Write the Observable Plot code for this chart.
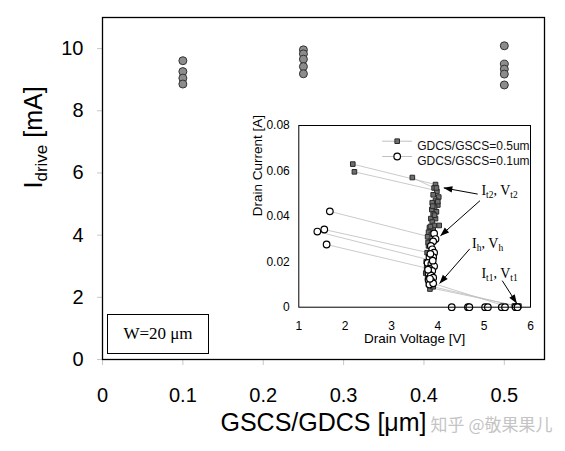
<!DOCTYPE html>
<html><head><meta charset="utf-8">
<script src="https://cdn.jsdelivr.net/npm/d3@7"></script>
<script src="https://cdn.jsdelivr.net/npm/@observablehq/plot@0.6"></script>
<style>
body{margin:0;background:#fff;}
#wrap{position:relative;width:565px;height:451px;overflow:hidden;background:#fff;}
#wrap svg{position:absolute;max-width:none;}
#wbox{position:absolute;left:107px;top:314px;width:102px;height:40px;box-sizing:border-box;border:1.3px solid #000;font:17px "Liberation Serif",serif;display:flex;align-items:center;justify-content:center;color:#000;}
</style></head>
<body><div id="wrap"></div>
<script>
// ---- main chart data ----
const gscsGdcs = [0.1,0.1,0.1,0.1, 0.25,0.25,0.25,0.25,0.25, 0.5,0.5,0.5,0.5,0.5];
const idrive   = [9.61,9.26,9.05,8.86, 9.96,9.83,9.66,9.42,9.19, 10.09,9.5,9.34,9.18,8.83];
const xTicks = [0,0.1,0.2,0.3,0.4,0.5];
const yTicks = [0,2,4,6,8,10];
const xTitle = "GSCS/GDCS [μm]";
const yTitleParts = ["I","drive"," [mA]"];
const boxLabel = "W=20 μm";
const watermark = "知乎 @敬果果儿";

// ---- inset data ----
const sqV = [2.165,2.2,3.45,
  3.95,3.92,3.98,3.9,4.02,3.95,3.88,4.0,3.93,3.87,3.97,3.9,3.85,3.95,3.88,4.03,3.92,3.82,3.9,3.8,3.86,3.78,3.84,3.8,3.77,3.82,3.75,3.8,3.76,3.74,3.78,3.82,3.8,3.85,3.83,3.9,
  3.97,4.0,3.93,3.89,3.84,3.79,3.76,3.81,
  5.65,5.68,5.72,5.75];
const sqI = [0.063,0.0596,0.0571,
  0.054,0.0525,0.051,0.0495,0.0485,0.047,0.046,0.045,0.044,0.043,0.042,0.041,0.039,0.039,0.0375,0.036,0.036,0.035,0.034,0.033,0.032,0.031,0.029,0.027,0.024,0.022,0.02,0.018,0.016,0.015,0.013,0.011,0.01,0.009,0.008,0.009,
  0.0525,0.0465,0.0405,0.0445,0.0355,0.0285,0.0175,0.0125,
  0.0005,0.0005,0.0005,0.0005];
const ciV = [1.67,1.40,1.55,1.60,
  3.92,3.95,3.9,3.85,3.88,3.92,3.82,3.9,3.78,3.86,3.92,3.82,3.88,3.8,3.85,3.9,3.8,3.86,3.82,3.9,
  3.84,3.79,3.89,3.83,
  4.3,4.65,4.68,5.02,5.08,5.38,5.45,5.68,5.72];
const ciI = [0.0422,0.0333,0.0342,0.0276,
  0.0325,0.03,0.029,0.027,0.0255,0.024,0.022,0.022,0.0195,0.019,0.018,0.017,0.016,0.015,0.014,0.013,0.012,0.0115,0.01,0.0105,
  0.0235,0.0165,0.0205,0.0125,
  0,0,0,0,0,0,0,0,0];
// light grey curve segments
const segV1 = [2.165,2.2,3.45,3.9,3.85, 1.67,1.55,1.40,1.60,3.9];
const segI1 = [0.063,0.0596,0.0571,0.009,0.0085, 0.0422,0.0342,0.0333,0.0276,0.0105];
const segV2 = [3.95,3.93,3.92,5.68,5.72, 3.82,3.8,3.78,3.8,5.45];
const segI2 = [0.054,0.0515,0.0525,0.0005,0.0005, 0.031,0.024,0.021,0.017,0.0005];
// annotation arrows
const arrV1 = [4.86,4.91,4.69,5.39];
const arrI1 = [0.0498,0.0469,0.0257,0.0117];
const arrV2 = [4.13,4.06,4.04,5.70];
const arrI2 = [0.0525,0.0315,0.0105,0.0018];
const annotParts = [["I","t2",", V","t2"],["I","h",", V","h"],["I","t1",", V","t1"]];
const annotV = [4.94,4.74,4.94];
const annotI = [0.0513,0.028,0.0149];
const insetXTicks = [1,2,3,4,5,6];
const insetYTicks = [0,0.02,0.04,0.06,0.08];
const insetXTitle = "Drain Voltage [V]";
const insetYTitle = "Drain Current [A]";
const legendLabels = ["GDCS/GSCS=0.5um","GDCS/GSCS=0.1um"];

const sans = "Liberation Sans, Arial, sans-serif";
const serif = "Liberation Serif, Times New Roman, serif";

const mainRows = gscsGdcs.map((x,i)=>({x, y: idrive[i]}));
const main = Plot.plot({
  width:565, height:451, marginLeft:102, marginRight:21, marginTop:17, marginBottom:92,
  style:{fontFamily:sans, background:"transparent", overflow:"visible"},
  x:{domain:[0,0.55]}, y:{domain:[0,11]},
  marks:[
    Plot.axisX({ticks:xTicks, tickFormat:d=>String(d), tickSize:6, tickPadding:22, stroke:"#c8c8c8", fill:"#000", fontSize:20, label:null}),
    Plot.axisY({ticks:yTicks, tickFormat:d=>String(d), tickSize:5, tickPadding:14, stroke:"#c8c8c8", fill:"#000", fontSize:20, label:null}),
    Plot.frame({stroke:"#000", strokeWidth:1.3}),
    Plot.dot(mainRows, {x:"x", y:"y", r:4, fill:"#8c8c8c", stroke:"#333", strokeWidth:1}),
    Plot.text([yTitleParts.join("")], {frameAnchor:"left", dx:-69, rotate:-90, fontSize:25, fill:"#000"}),
    Plot.text([xTitle], {frameAnchor:"bottom", dy:71, fontSize:25, fill:"#000"}),
    Plot.text([watermark], {frameAnchor:"bottom-right", dx:8, dy:71, textAnchor:"end", fontSize:17, fill:"#c4c4c4", fontFamily:"Noto Sans CJK SC"})
  ]
});
main.style.left="0px"; main.style.top="0px";

const sqRows = sqV.map((x,i)=>({x, y:sqI[i]}));
const ciRows = ciV.map((x,i)=>({x, y:ciI[i]}));
const segRows = segV1.map((x1,i)=>({x1, y1:segI1[i], x2:segV2[i], y2:segI2[i]}));
const arrRows = arrV1.map((x1,i)=>({x1, y1:arrI1[i], x2:arrV2[i], y2:arrI2[i]}));
const annRows = annotParts.map((p,i)=>({x:annotV[i], y:annotI[i], t:p.join("")}));
const lineSym = {draw(ctx){ctx.moveTo(-15,0); ctx.lineTo(15,0);}};

const legendMarks = legendLabels.flatMap((lab,i)=>[
  Plot.dot([lab], {frameAnchor:"top-left", dx:98.4, dy:15.7+i*15.3, symbol:lineSym, r:3, stroke:"#c0c0c0", strokeWidth:1, fill:"none"}),
  Plot.dot([lab], {frameAnchor:"top-left", dx:98.4, dy:15.7+i*15.3,
    symbol: i===0 ? "square" : "circle", r: i===0 ? 2.6 : 3.3,
    fill: i===0 ? "#6e6e6e" : "#fff", stroke: i===0 ? "#2a2a2a" : "#000", strokeWidth: i===0 ? 1 : 1.2}),
  Plot.text([lab], {frameAnchor:"top-left", dx:118.4, dy:15.7+i*15.3, textAnchor:"start", fontSize:12, fill:"#111"})
]);

const inset = Plot.plot({
  width:300, height:250, marginLeft:58.3, marginRight:10, marginTop:20, marginBottom:48.3,
  style:{fontFamily:sans, background:"transparent", overflow:"visible"},
  x:{domain:[1,6]}, y:{domain:[0,0.08]},
  marks:[
    Plot.axisX({ticks:insetXTicks, tickFormat:d=>String(d), tickSize:0, tickPadding:14, fontSize:12, label:null}),
    Plot.axisY({ticks:insetYTicks, tickFormat:d=>d===0?"0":d3.format(".2f")(d), tickSize:0, tickPadding:9, fontSize:12, label:null}),
    Plot.link(segRows, {x1:"x1", y1:"y1", x2:"x2", y2:"y2", stroke:"#bdbdbd", strokeWidth:0.8}),
    Plot.dot(sqRows, {x:"x", y:"y", symbol:"square", r:2.6, fill:"#6e6e6e", stroke:"#2a2a2a", strokeWidth:1}),
    Plot.dot(ciRows, {x:"x", y:"y", symbol:"circle", r:3.3, fill:"#fff", stroke:"#000", strokeWidth:1.2}),
    Plot.frame({stroke:"#000", strokeWidth:1}),
    Plot.link(arrRows, {x1:"x1", y1:"y1", x2:"x2", y2:"y2", stroke:"#000", strokeWidth:1, markerEnd:"arrow"}),
    Plot.text(annRows, {x:"x", y:"y", text:"t", textAnchor:"start", fontFamily:serif, fontSize:14, fill:"#000"}),
    Plot.text([insetXTitle], {frameAnchor:"bottom", dy:36, fontSize:13.5, fill:"#000"}),
    Plot.text([insetYTitle], {frameAnchor:"left", dx:-41, rotate:-90, fontSize:13.5, fill:"#000"}),
    ...legendMarks
  ]
});
inset.style.left="240px"; inset.style.top="105px";

const wrap = document.getElementById("wrap");
wrap.appendChild(main);
wrap.appendChild(inset);
const box = document.createElement("div");
box.id="wbox"; box.textContent = boxLabel;
wrap.appendChild(box);

// subscripts
d3.select(main).selectAll("text").each(function(){
  if (this.textContent !== yTitleParts.join("")) return;
  const s = d3.select(this); s.text(null);
  s.append("tspan").text(yTitleParts[0]);
  s.append("tspan").attr("font-size",17).attr("dy",5).text(yTitleParts[1]);
  s.append("tspan").attr("dy",-5).text(yTitleParts[2]);
});
d3.select(inset).selectAll("text").each(function(){
  const parts = annotParts.find(p=>p.join("")===this.textContent);
  if (!parts) return;
  const s = d3.select(this); s.text(null);
  parts.forEach((p,i)=>{
    const sub = i%2===1;
    s.append("tspan").attr("font-size", sub?9.5:14).attr("dy", sub?3:(i>0?-3:0)).text(p);
  });
});
// filled arrow heads
d3.select(inset).selectAll("marker").each(function(){
  const m = d3.select(this);
  m.attr("viewBox","-9 -4 10 8").attr("markerWidth",10).attr("markerHeight",8)
   .attr("fill","#000").attr("stroke","none");
  m.selectAll("path").attr("d","M-8.5,-3.2L0.5,0L-8.5,3.2Z");
});
</script></body></html>
